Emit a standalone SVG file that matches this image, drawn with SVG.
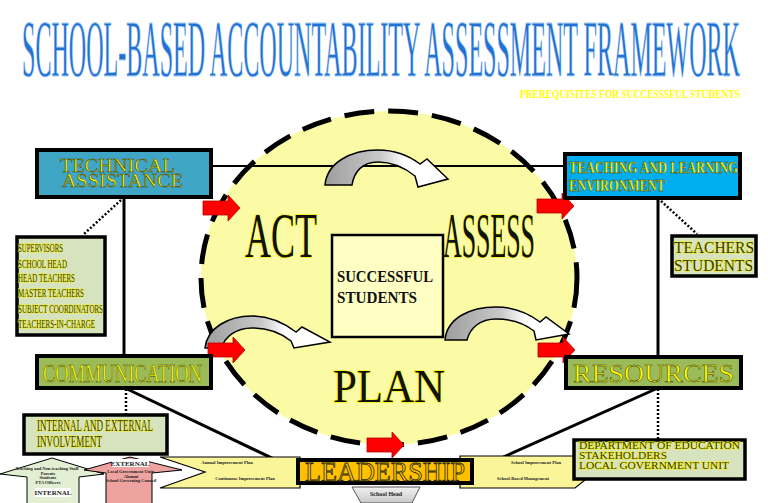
<svg xmlns="http://www.w3.org/2000/svg" xmlns:xlink="http://www.w3.org/1999/xlink" width="768" height="503" viewBox="0 0 768 503">
<defs>
<style>
.serif{font-family:"Liberation Serif","Times New Roman",serif;}
.box{stroke:#000;stroke-width:4;}
.pale{fill:#D7E2BE;stroke:#000;stroke-width:3.5;}
.olive{fill:#3B3B12;stroke:#F2F200;stroke-width:1;paint-order:stroke;font-family:"Liberation Serif","Times New Roman",serif;}
.yel{fill:#FFFF00;stroke:#3A3A1A;stroke-width:0.5;font-family:"Liberation Serif","Times New Roman",serif;}
.big{fill:#111;stroke:#F4F400;stroke-width:1.6;paint-order:stroke;font-family:"Liberation Serif","Times New Roman",serif;}
.conn{stroke:#000;stroke-width:3;fill:none;}
.dot{stroke:#000;stroke-width:2.5;fill:none;stroke-dasharray:2 2;}
.red{fill:#FF0000;stroke:#B00000;stroke-width:0.8;}
.curve{fill:url(#gw);stroke:#000;stroke-width:1.5;}
.tiny{font-family:"Liberation Serif","Times New Roman",serif;font-weight:bold;font-size:4.5px;fill:#222;text-anchor:middle;}
</style>
<linearGradient id="gw" x1="0" y1="0" x2="1" y2="0">
<stop offset="0" stop-color="#9E9E9E"/>
<stop offset="0.45" stop-color="#C8C8C8"/>
<stop offset="0.65" stop-color="#FFFFFF"/>
<stop offset="1" stop-color="#FFFFFF"/>
</linearGradient>
<linearGradient id="gray" x1="0" y1="0" x2="0" y2="1">
<stop offset="0" stop-color="#F2F2F2"/>
<stop offset="1" stop-color="#C8C8C8"/>
</linearGradient>
<polygon id="redArrow" points="0,-7 25,-7 25,-13 37,0 25,13 25,7 0,7"/>
</defs>
<rect width="768" height="503" fill="#FFFFFF"/>

<g id="title">
<text class="serif" x="22" y="76" font-size="80" fill="#2272D4" stroke="#A8D0F4" stroke-width="0.8" textLength="718" lengthAdjust="spacingAndGlyphs">SCHOOL-BASED ACCOUNTABILITY ASSESSMENT FRAMEWORK</text>
<text class="serif" x="520" y="98" font-size="13" font-weight="bold" fill="#FFFF00" textLength="220" lengthAdjust="spacingAndGlyphs">PREREQUISITES FOR SUCCESSSFUL STUDENTS</text>
</g>

<g id="cycle">
<ellipse cx="389" cy="278" rx="188" ry="167" fill="#FBFBA5" stroke="#000" stroke-width="5" stroke-dasharray="30 14"/>
<text class="big" x="245" y="257" font-size="64" textLength="72" lengthAdjust="spacingAndGlyphs">ACT</text>
<text class="big" x="443" y="257" font-size="64" textLength="92" lengthAdjust="spacingAndGlyphs">ASSESS</text>
<text class="big" x="333" y="402" font-size="46" textLength="112" lengthAdjust="spacingAndGlyphs">PLAN</text>
</g>

<g id="connectors">
<line x1="211" y1="166" x2="565" y2="166" stroke="#000" stroke-width="2"/>
<line class="conn" x1="124" y1="197" x2="124" y2="357"/>
<line class="conn" x1="658" y1="198" x2="658" y2="358"/>
<line class="dot" x1="121" y1="200" x2="84" y2="234"/>
<line class="dot" x1="661" y1="201" x2="697" y2="234"/>
<line class="dot" x1="126" y1="389" x2="126" y2="414"/>
<line class="dot" x1="658" y1="389" x2="658" y2="439"/>
<line class="conn" x1="125" y1="388" x2="299" y2="471"/>
<line class="conn" x1="658" y1="388" x2="472" y2="471"/>
</g>

<g id="cycle-arrows">
<path class="curve" d="M325,185 C327,163 350,150 378,150 C398,150 412,158 420,164 L427,159 L448,179 L418,187 L415,176 C405,168 392,162 378,162 C362,162 354,172 352,185 Z"/>
<path class="curve" d="M205,348 C207,328 228,316 252,316 C272,316 288,326 296,332 L302,327 L330,342 L294,348 L291,341 C281,333 267,328 252,328 C236,328 224,337 222,348 Z"/>
<path class="curve" d="M445,340 C447,318 470,307 496,307 C516,307 532,316 540,322 L546,317 L569,334 L536,340 L534,331 C524,323 510,319 496,319 C480,319 470,328 467,340 Z"/>
</g>

<g id="flow-arrows">
<use href="#redArrow" class="red" x="203" y="208"/>
<use href="#redArrow" class="red" x="537" y="206"/>
<use href="#redArrow" class="red" x="208" y="350"/>
<use href="#redArrow" class="red" x="538" y="350"/>
<use href="#redArrow" class="red" x="367" y="445"/>
</g>

<g id="node-successful">
<rect x="332" y="235" width="111" height="102" fill="#FFFFC4" stroke="#000" stroke-width="2.5"/>
<text class="serif" x="337" y="282" font-size="16" font-weight="bold" fill="#111" textLength="96" lengthAdjust="spacingAndGlyphs">SUCCESSFUL</text>
<text class="serif" x="337" y="303" font-size="16" font-weight="bold" fill="#111" textLength="80" lengthAdjust="spacingAndGlyphs">STUDENTS</text>
</g>

<g id="node-technical">
<rect class="box" x="37" y="150" width="174" height="47" fill="#40A6C6"/>
<text class="yel" x="60" y="172" font-size="18" textLength="115" lengthAdjust="spacingAndGlyphs">TECHNICAL</text>
<text class="yel" x="62" y="187" font-size="18" textLength="121" lengthAdjust="spacingAndGlyphs">ASSISTANCE</text>
</g>

<g id="node-supervisors">
<rect class="pale" x="17" y="237" width="88" height="98"/>
<text class="olive" x="18" y="252" font-size="13" textLength="45" lengthAdjust="spacingAndGlyphs">SUPERVISORS</text>
<text class="olive" x="18" y="268" font-size="13" textLength="49" lengthAdjust="spacingAndGlyphs">SCHOOL HEAD</text>
<text class="olive" x="18" y="282" font-size="13" textLength="57" lengthAdjust="spacingAndGlyphs">HEAD TEACHERS</text>
<text class="olive" x="18" y="297" font-size="13" textLength="66" lengthAdjust="spacingAndGlyphs">MASTER TEACHERS</text>
<text class="olive" x="18" y="313" font-size="13" textLength="85" lengthAdjust="spacingAndGlyphs">SUBJECT COORDINATORS</text>
<text class="olive" x="18" y="328" font-size="13" textLength="77" lengthAdjust="spacingAndGlyphs">TEACHERS-IN-CHARGE</text>
</g>

<g id="node-teaching">
<rect class="box" x="565" y="154" width="175" height="44" fill="#00AEEF"/>
<text class="yel" x="569" y="173" font-size="17" font-weight="bold" textLength="169" lengthAdjust="spacingAndGlyphs">TEACHING AND LEARNING</text>
<text class="yel" x="569" y="191" font-size="17" font-weight="bold" textLength="96" lengthAdjust="spacingAndGlyphs">ENVIRONMENT</text>
</g>

<g id="node-teachers">
<rect class="pale" x="672" y="236" width="84" height="40"/>
<text class="olive" x="674" y="253" font-size="17" textLength="80" lengthAdjust="spacingAndGlyphs">TEACHERS</text>
<text class="olive" x="674" y="271" font-size="17" textLength="79" lengthAdjust="spacingAndGlyphs">STUDENTS</text>
</g>

<g id="node-communication">
<rect class="box" x="37" y="356" width="174" height="32" fill="#9BBB59"/>
<text class="yel" x="43" y="382" font-size="26" textLength="159" lengthAdjust="spacingAndGlyphs">COMMUNICATION</text>
</g>

<g id="node-resources">
<rect class="box" x="566" y="357" width="175" height="31" fill="#9BBB59"/>
<text class="yel" x="573" y="382" font-size="26" textLength="161" lengthAdjust="spacingAndGlyphs">RESOURCES</text>
</g>

<g id="node-involvement">
<rect class="pale" x="24" y="415" width="143" height="39" stroke-width="4"/>
<text class="olive" x="37" y="431" font-size="16" textLength="116" lengthAdjust="spacingAndGlyphs">INTERNAL AND EXTERNAL</text>
<text class="olive" x="37" y="447" font-size="16" textLength="65" lengthAdjust="spacingAndGlyphs">INVOLVEMENT</text>
</g>

<g id="node-internal">
<polygon points="52,458 104,474 79,477 79,504 27,504 27,477 0,474" fill="#E2EFD2" stroke="#000" stroke-width="1"/>
<text class="tiny" x="47" y="469.5">Teaching and Non-teaching Staff</text>
<text class="tiny" x="48" y="474.5">Parents</text>
<text class="tiny" x="48" y="479">Students</text>
<text class="tiny" x="48" y="483.5">PTA Officers</text>
<rect x="35" y="488" width="36" height="9" fill="#FFFFFF"/>
<text class="serif" x="53" y="495" font-size="7" font-weight="bold" fill="#222" text-anchor="middle">INTERNAL</text>
</g>

<g id="node-external">
<polygon points="130,457 182,470 152,473 152,504 106,504 106,473 84,470" fill="#EFA3A0" stroke="#000" stroke-width="1"/>
<rect x="112" y="459" width="37" height="8" fill="#FFFFFF"/>
<text class="serif" x="130" y="466" font-size="7" font-weight="bold" fill="#222" text-anchor="middle">EXTERNAL</text>
<text class="tiny" x="131" y="473">Local Government Units</text>
<text class="tiny" x="131" y="477.5">Alumni</text>
<text class="tiny" x="131" y="482">School Governing Council</text>
</g>

<g id="node-plans-left">
<polygon points="160,457 300,457 300,488 160,488 205,472" fill="#FBF59A" stroke="#000" stroke-width="1.2"/>
<text class="tiny" x="227" y="464">Annual Improvement Plan</text>
<text class="tiny" x="245" y="480">Continuous Improvement Plan</text>
</g>

<g id="node-plans-right">
<polygon points="460,456 575,456 595,472 575,488 460,488" fill="#FBF59A" stroke="#000" stroke-width="1.2"/>
<text class="tiny" x="536" y="464">School Improvement Plan</text>
<text class="tiny" x="523" y="480">School-Based Management</text>
</g>

<g id="node-leadership">
<rect class="box" x="298" y="460" width="174" height="23" fill="#FFC000"/>
<text class="serif" x="305" y="481" font-size="27" fill="#FFC000" stroke="#2A2A10" stroke-width="0.8" textLength="160" lengthAdjust="spacingAndGlyphs">LEADERSHIP</text>
</g>

<g id="node-schoolhead">
<polygon points="352,487 420,487 412,503 361,503" fill="url(#gray)" stroke="#555" stroke-width="1"/>
<text class="serif" x="386" y="496" font-size="6" font-weight="bold" fill="#222" text-anchor="middle">School Head</text>
</g>

<g id="node-department">
<rect class="pale" x="574" y="440" width="171" height="39" stroke-width="4"/>
<text class="olive" x="579" y="449" font-size="10.5" textLength="161" lengthAdjust="spacingAndGlyphs">DEPARTMENT OF EDUCATION</text>
<text class="olive" x="579" y="459" font-size="10.5" textLength="88" lengthAdjust="spacingAndGlyphs">STAKEHOLDERS</text>
<text class="olive" x="579" y="469" font-size="10.5" textLength="150" lengthAdjust="spacingAndGlyphs">LOCAL GOVERNMENT UNIT</text>
</g>
</svg>
